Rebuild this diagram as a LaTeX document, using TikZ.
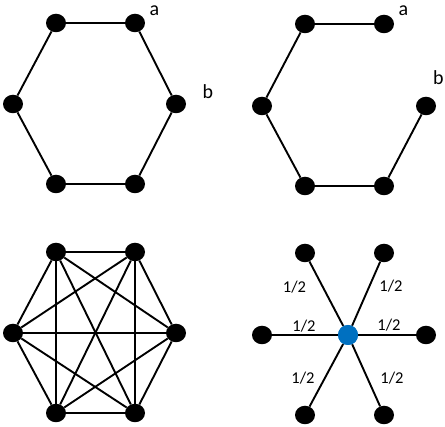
\documentclass[tikz,border=0pt]{standalone}
\usepackage{fontspec}
\setmainfont{Carlito}
\usetikzlibrary{shapes.geometric}
\definecolor{dotblue}{RGB}{0,112,192}
\begin{document}
\begin{tikzpicture}[x=1pt,y=-1pt,
  vtx/.style={ellipse,fill=black,draw=none,minimum width=20pt,minimum height=18.5pt,inner sep=0pt},
  hub/.style={circle,fill=dotblue,draw=none,minimum size=20pt,inner sep=0pt},
  edge/.style={line width=1.9pt,black},
  lbl/.style={font=\fontsize{20}{22}\selectfont,inner sep=0pt},
  wlbl/.style={font=\fontsize{16.5}{18}\selectfont,inner sep=0pt}]
\useasboundingbox (0,0) rectangle (445,427);
% top-left hexagon
\node[vtx] (a1) at (56,23) {};
\node[vtx] (a2) at (135,23) {};
\node[vtx] (a3) at (176,104) {};
\node[vtx] (a4) at (135,184) {};
\node[vtx] (a5) at (56,184) {};
\node[vtx] (a6) at (13,104) {};
\draw[edge] (a1) -- (a2) -- (a3) -- (a4) -- (a5) -- (a6) -- (a1);
\node[lbl] (la1) at (154.5,10.5) {a};
\node[lbl] (lb1) at (208,92) {b};
% top-right path
\node[vtx] (b1) at (305,24) {};
\node[vtx] (b2) at (384,24) {};
\node[vtx] (b3) at (426,106) {};
\node[vtx] (b4) at (384,186) {};
\node[vtx] (b5) at (305,186) {};
\node[vtx] (b6) at (262,106) {};
\draw[edge] (b2) -- (b1) -- (b6) -- (b5) -- (b4) -- (b3);
\node[lbl] (la2) at (403.5,10.5) {a};
\node[lbl] (lb2) at (438.5,78) {b};
% bottom-left K6
\node[vtx] (c1) at (56,252) {};
\node[vtx] (c2) at (135,252) {};
\node[vtx] (c3) at (176,333) {};
\node[vtx] (c4) at (135,413) {};
\node[vtx] (c5) at (56,413) {};
\node[vtx] (c6) at (13,333) {};
\foreach \i/\j in {1/2,1/3,1/4,1/5,1/6,2/3,2/4,2/5,2/6,3/4,3/5,3/6,4/5,4/6,5/6}
  \draw[edge] (c\i) -- (c\j);
% bottom-right star
\node[hub] (h) at (348,335) {};
\node[vtx] (d1) at (305,253) {};
\node[vtx] (d2) at (384,253) {};
\node[vtx] (d3) at (426,335) {};
\node[vtx] (d4) at (384,415) {};
\node[vtx] (d5) at (305,415) {};
\node[vtx] (d6) at (262,335) {};
\foreach \i in {1,...,6}
  \draw[edge] (h) -- (d\i);
\node[hub] at (h) {};
\node[wlbl] (w1) at (294.5,287) {1/2};
\node[wlbl] (w2) at (391,286) {1/2};
\node[wlbl] (w3) at (304,326) {1/2};
\node[wlbl] (w4) at (389,325) {1/2};
\node[wlbl] (w5) at (303,378) {1/2};
\node[wlbl] (w6) at (392,378) {1/2};
\end{tikzpicture}
\end{document}
